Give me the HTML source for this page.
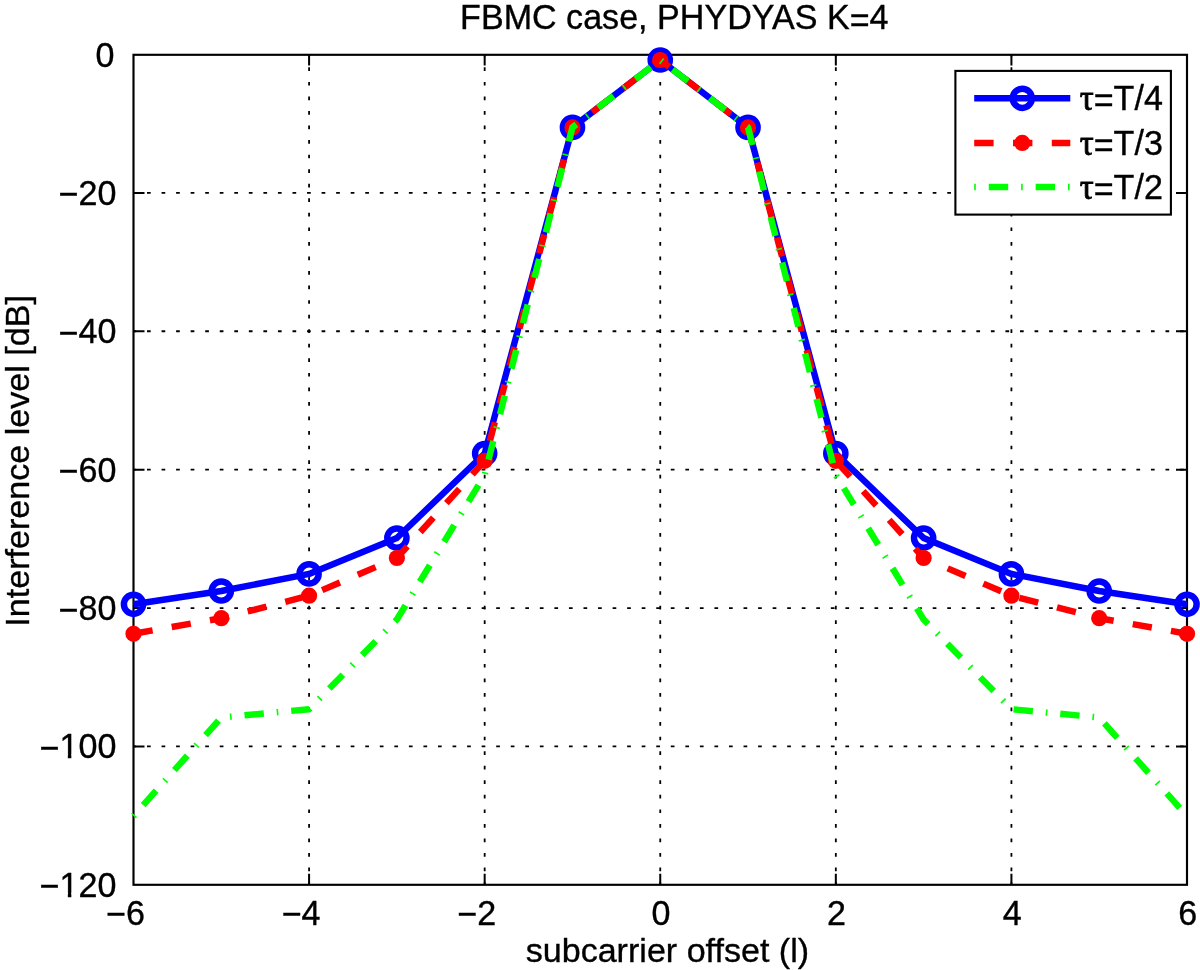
<!DOCTYPE html>
<html lang="en"><head><meta charset="utf-8"><title>FBMC case, PHYDYAS K=4</title>
<style>
html,body{margin:0;padding:0;background:#fff;}
body{width:1200px;height:970px;overflow:hidden;}
svg{display:block;}
text{font-family:"Liberation Sans",Arial,Helvetica,sans-serif;font-size:34.1px;fill:#000;stroke:#000;stroke-width:0.35px;}
</style></head><body>
<svg width="1200" height="970" viewBox="0 0 1200 970">
<rect x="0" y="0" width="1200" height="970" fill="#fff"/>
<g stroke="#000" stroke-width="1.8" fill="none" stroke-dasharray="3.7 10.85">
<path d="M309.08 884.80 V54.50" stroke-dashoffset="1.05"/>
<path d="M484.67 884.80 V54.50" stroke-dashoffset="1.05"/>
<path d="M660.25 884.80 V54.50" stroke-dashoffset="1.05"/>
<path d="M835.83 884.80 V54.50" stroke-dashoffset="1.05"/>
<path d="M1011.42 884.80 V54.50" stroke-dashoffset="1.05"/>
<path d="M133.50 192.88 H1187.00" stroke-dashoffset="1.05"/>
<path d="M133.50 331.27 H1187.00" stroke-dashoffset="1.05"/>
<path d="M133.50 469.65 H1187.00" stroke-dashoffset="1.05"/>
<path d="M133.50 608.03 H1187.00" stroke-dashoffset="1.05"/>
<path d="M133.50 746.42 H1187.00" stroke-dashoffset="1.05"/>
</g>
<g stroke="#000" stroke-width="2.15" fill="none" stroke-linecap="square">
<rect x="133.50" y="54.80" width="1053.50" height="830.00"/>
</g>
<g stroke="#000" stroke-width="2" fill="none">
<path d="M309.08 884.80 v-11.00 M309.08 54.80 v10.70"/>
<path d="M484.67 884.80 v-11.00 M484.67 54.80 v10.70"/>
<path d="M660.25 884.80 v-11.00 M660.25 54.80 v10.70"/>
<path d="M835.83 884.80 v-11.00 M835.83 54.80 v10.70"/>
<path d="M1011.42 884.80 v-11.00 M1011.42 54.80 v10.70"/>
<path d="M133.50 192.88 h11.00 M1187.00 192.88 h-11.00"/>
<path d="M133.50 331.27 h11.00 M1187.00 331.27 h-11.00"/>
<path d="M133.50 469.65 h11.00 M1187.00 469.65 h-11.00"/>
<path d="M133.50 608.03 h11.00 M1187.00 608.03 h-11.00"/>
<path d="M133.50 746.42 h11.00 M1187.00 746.42 h-11.00"/>
</g>
<text transform="translate(114.40 66.60) scale(1 1.035)" text-anchor="end">0</text>
<text transform="translate(116.40 204.78) scale(1 1.035)" text-anchor="end"><tspan dy="1.6">−</tspan><tspan dy="-1.6">20</tspan></text>
<text transform="translate(116.40 343.17) scale(1 1.035)" text-anchor="end"><tspan dy="1.6">−</tspan><tspan dy="-1.6">40</tspan></text>
<text transform="translate(116.40 481.55) scale(1 1.035)" text-anchor="end"><tspan dy="1.6">−</tspan><tspan dy="-1.6">60</tspan></text>
<text transform="translate(116.40 619.93) scale(1 1.035)" text-anchor="end"><tspan dy="1.6">−</tspan><tspan dy="-1.6">80</tspan></text>
<text transform="translate(116.40 758.32) scale(1 1.035)" text-anchor="end"><tspan dy="1.6">−</tspan><tspan dy="-1.6">100</tspan></text>
<rect x="61.11" y="754.32" width="6.72" height="5.6" fill="#fff"/>
<rect x="71.34" y="754.32" width="6.60" height="5.6" fill="#fff"/>
<text transform="translate(116.40 896.70) scale(1 1.035)" text-anchor="end"><tspan dy="1.6">−</tspan><tspan dy="-1.6">120</tspan></text>
<rect x="61.11" y="892.70" width="6.72" height="5.6" fill="#fff"/>
<rect x="71.34" y="892.70" width="6.60" height="5.6" fill="#fff"/>
<text transform="translate(125.50 924.80) scale(1 1.035)" text-anchor="middle"><tspan dy="1.6">−</tspan><tspan dy="-1.6">6</tspan></text>
<text transform="translate(301.08 924.80) scale(1 1.035)" text-anchor="middle"><tspan dy="1.6">−</tspan><tspan dy="-1.6">4</tspan></text>
<text transform="translate(476.67 924.80) scale(1 1.035)" text-anchor="middle"><tspan dy="1.6">−</tspan><tspan dy="-1.6">2</tspan></text>
<text transform="translate(660.95 924.80) scale(1 1.035)" text-anchor="middle">0</text>
<text transform="translate(836.53 924.80) scale(1 1.035)" text-anchor="middle">2</text>
<text transform="translate(1012.12 924.80) scale(1 1.035)" text-anchor="middle">4</text>
<text transform="translate(1187.70 924.80) scale(1 1.035)" text-anchor="middle">6</text>
<text transform="translate(674.30 28.80) scale(1 1.035)" text-anchor="middle">FBMC case, PHYDYAS K<tspan dy="2.6">=</tspan><tspan dy="-2.6">4</tspan></text>
<text transform="translate(667.40 961.90) scale(1 1.000)" text-anchor="middle">subcarrier offset (l)</text>
<text transform="translate(29.1 460.9) rotate(-90)" text-anchor="middle">Interference level [dB]</text>
<g fill="none" stroke-linejoin="round" stroke-width="6.45">
<polyline points="133.50,604.30 221.29,591.00 309.08,573.90 396.88,538.00 484.67,453.50 572.46,127.40 660.25,60.00 748.04,127.40 835.83,453.50 923.62,538.00 1011.42,573.90 1099.21,591.00 1187.00,604.30" stroke="#00f"/>
<circle cx="133.50" cy="604.30" r="9.60" stroke="#00f"/>
<circle cx="221.29" cy="591.00" r="9.60" stroke="#00f"/>
<circle cx="309.08" cy="573.90" r="9.60" stroke="#00f"/>
<circle cx="396.88" cy="538.00" r="9.60" stroke="#00f"/>
<circle cx="484.67" cy="453.50" r="9.60" stroke="#00f"/>
<circle cx="572.46" cy="127.40" r="9.60" stroke="#00f"/>
<circle cx="660.25" cy="60.00" r="9.60" stroke="#00f"/>
<circle cx="748.04" cy="127.40" r="9.60" stroke="#00f"/>
<circle cx="835.83" cy="453.50" r="9.60" stroke="#00f"/>
<circle cx="923.62" cy="538.00" r="9.60" stroke="#00f"/>
<circle cx="1011.42" cy="573.90" r="9.60" stroke="#00f"/>
<circle cx="1099.21" cy="591.00" r="9.60" stroke="#00f"/>
<circle cx="1187.00" cy="604.30" r="9.60" stroke="#00f"/>
<polyline points="133.50,633.80 221.29,618.20 309.08,595.70 396.88,558.00 484.67,460.80 572.46,127.40 660.25,60.00 748.04,127.40 835.83,460.80 923.62,558.00 1011.42,595.70 1099.21,618.20 1187.00,633.80" stroke="#f00" stroke-dasharray="19.40 19.40"/>
<circle cx="133.50" cy="633.80" r="8.10" fill="#f00" stroke="none"/>
<circle cx="221.29" cy="618.20" r="8.10" fill="#f00" stroke="none"/>
<circle cx="309.08" cy="595.70" r="8.10" fill="#f00" stroke="none"/>
<circle cx="396.88" cy="558.00" r="8.10" fill="#f00" stroke="none"/>
<circle cx="484.67" cy="460.80" r="8.10" fill="#f00" stroke="none"/>
<circle cx="572.46" cy="127.40" r="8.10" fill="#f00" stroke="none"/>
<circle cx="660.25" cy="60.00" r="8.10" fill="#f00" stroke="none"/>
<circle cx="748.04" cy="127.40" r="8.10" fill="#f00" stroke="none"/>
<circle cx="835.83" cy="460.80" r="8.10" fill="#f00" stroke="none"/>
<circle cx="923.62" cy="558.00" r="8.10" fill="#f00" stroke="none"/>
<circle cx="1011.42" cy="595.70" r="8.10" fill="#f00" stroke="none"/>
<circle cx="1099.21" cy="618.20" r="8.10" fill="#f00" stroke="none"/>
<circle cx="1187.00" cy="633.80" r="8.10" fill="#f00" stroke="none"/>
<polyline points="133.50,816.00 221.29,717.50 309.08,709.20 396.88,619.50 484.67,475.00 572.46,127.40 660.25,60.00 748.04,127.40 835.83,475.00 923.62,619.50 1011.42,709.20 1099.21,717.50 1187.00,816.00" stroke="#0f0" stroke-dasharray="1.62 12.94 19.40 12.94"/>
</g>
<rect x="955.40" y="70.90" width="215.50" height="143.70" fill="#fff" stroke="#000" stroke-width="2.1"/>
<g fill="none" stroke-width="6.45">
<path d="M974.20 98.30 H1070.30" stroke="#00f"/>
<circle cx="1022.30" cy="98.30" r="9.60" stroke="#00f"/>
<path d="M974.20 142.90 H1070.30" stroke="#f00" stroke-dasharray="19.40 19.40"/>
<circle cx="1022.30" cy="142.90" r="8.10" fill="#f00" stroke="none"/>
<path d="M974.20 186.90 H1070.30" stroke="#0f0" stroke-dasharray="1.62 12.94 19.40 12.94"/>
</g>
<text transform="translate(1079.70 109.70) scale(1 1.035)" text-anchor="start"><tspan style="font-family:'Liberation Serif',serif;font-size:34.8px;stroke-width:0.8px">τ</tspan><tspan dy="2.6">=</tspan><tspan dy="-2.6">T/4</tspan></text>
<text transform="translate(1079.70 154.50) scale(1 1.035)" text-anchor="start"><tspan style="font-family:'Liberation Serif',serif;font-size:34.8px;stroke-width:0.8px">τ</tspan><tspan dy="2.6">=</tspan><tspan dy="-2.6">T/3</tspan></text>
<text transform="translate(1079.70 198.60) scale(1 1.035)" text-anchor="start"><tspan style="font-family:'Liberation Serif',serif;font-size:34.8px;stroke-width:0.8px">τ</tspan><tspan dy="2.6">=</tspan><tspan dy="-2.6">T/2</tspan></text>
</svg>
</body></html>
